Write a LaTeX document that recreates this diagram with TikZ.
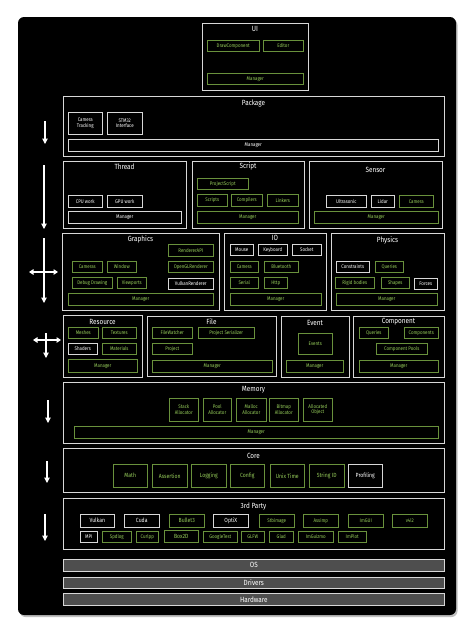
\documentclass[tikz,border=0pt]{standalone}
\usepackage{fontspec}
\setmainfont{Fira Sans}[FakeStretch=0.85]
\usetikzlibrary{arrows.meta}
\definecolor{wline}{RGB}{215,215,215}
\definecolor{gline}{RGB}{105,145,60}
\definecolor{gtext}{RGB}{150,205,90}
\definecolor{barfill}{RGB}{78,78,78}
\definecolor{panel}{RGB}{0,0,0}
\newcommand\bx[7]{\node[#6, anchor=north west, minimum width={(#4-#2)*1pt}, minimum height={(#5-#3)*1pt}] (#1) at (#2,#3) {#7};}
\newcommand\cont[7]{\node[contbox, anchor=north west, minimum width={(#4-#2)*1pt}, minimum height={(#5-#3)*1pt}] (#1) at (#2,#3) {};
\node[titletext] (#1t) at ({(#2+#4)/2},#6) {#7};}
\tikzset{
  base/.style={inner sep=0.3pt, align=center, line width=0.55pt, font=\fontsize{5.2}{5.6}\selectfont},
  wb/.style={base, draw=wline, text=white},
  gb/.style={base, draw=gline, text=gtext},
  gbl/.style={gb, font=\fontsize{6}{6.6}\selectfont},
  wbl/.style={wb, font=\fontsize{6}{6.6}\selectfont},
  contbox/.style={draw=wline, line width=0.65pt, inner sep=0pt},
  titletext/.style={text=white, inner sep=0pt, font=\fontsize{7.5}{8}\selectfont},
  barbox/.style={fill=barfill, draw=wline, line width=0.6pt, text=white, inner sep=0pt, font=\fontsize{7.5}{8}\selectfont},
  flow/.style={draw=white, line width=1.1pt, -{Triangle[width=5.5pt,length=5.5pt]}},
  flow2/.style={draw=white, line width=1.1pt, {Triangle[width=5.5pt,length=4.5pt]}-{Triangle[width=5.5pt,length=4.5pt]}}
}
\begin{document}
\begin{tikzpicture}[x=1pt,y=-1pt]
\useasboundingbox (0,0) rectangle (474,632);
\fill[white] (0,0) rectangle (474,632);
\fill[black!25, rounded corners=6pt] (19.5,19) rectangle (457.5,617);
\fill[panel, rounded corners=6pt] (18,17) rectangle (456,615);
% UI
\cont{ui}{202}{23}{308}{90}{29}{UI}
\bx{ui1}{207}{40}{259}{51}{gb}{DrawComponent}
\bx{ui2}{263}{40}{303}{51}{gb}{Editor}
\bx{uim}{207}{73}{303}{84}{gb}{Manager}
% Package
\cont{pk}{63}{96}{444}{156}{103}{Package}
\bx{pk1}{68}{112}{102}{134}{wb}{Camera\\Tracking}
\bx{pk2}{107}{112}{142}{134}{wb}{STM32\\Interface}
\bx{pkm}{68}{139}{438}{151}{wb}{Manager}
% Thread
\cont{th}{63}{161}{186}{228}{167}{Thread}
\bx{th1}{68}{195}{102}{207}{wb}{CPU work}
\bx{th2}{107}{195}{142}{207}{wb}{GPU work}
\bx{thm}{68}{211}{181}{223}{wb}{Manager}
% Script
\cont{sc}{192}{161}{304}{228}{166}{Script}
\bx{sc1}{197}{178}{248}{189}{gb}{ProjectScript}
\bx{sc2}{197}{194}{227}{206}{gb}{Scripts}
\bx{sc3}{231}{194}{262}{206}{gb}{Compilers}
\bx{sc4}{267}{194}{298}{206}{gb}{Linkers}
\bx{scm}{197}{211}{298}{223}{gb}{Manager}
% Sensor
\cont{se}{309}{161}{442}{228}{170}{Sensor}
\bx{se1}{326}{195}{366}{207}{wb}{Ultrasonic}
\bx{se2}{371}{195}{394}{207}{wb}{Lidar}
\bx{se3}{399}{195}{433}{207}{gb}{Camera}
\bx{sem}{314}{211}{438}{223}{gb}{Manager}
% Graphics
\cont{gr}{62}{233}{219}{310}{239}{Graphics}
\bx{gr1}{168}{244}{213}{256}{gb}{RendererAPI}
\bx{gr2}{168}{261}{213}{272}{gb}{OpenGLRenderer}
\bx{gr3}{168}{278}{213}{289}{wb}{VulkanRenderer}
\bx{gr4}{72}{261}{102}{272}{gb}{Cameras}
\bx{gr5}{107}{261}{136}{272}{gb}{Window}
\bx{gr6}{72}{277}{112}{288}{gb}{Debug Drawing}
\bx{gr7}{117}{277}{146}{288}{gb}{Viewports}
\bx{grm}{68}{293}{213}{305}{gb}{Manager}
% IO
\cont{io}{224}{233}{326}{310}{238}{IO}
\bx{io1}{230}{244}{253}{255}{wb}{Mouse}
\bx{io2}{258}{244}{287}{255}{wb}{Keyboard}
\bx{io3}{292}{244}{321}{255}{wb}{Socket}
\bx{io4}{230}{261}{258}{272}{gb}{Camera}
\bx{io5}{264}{261}{298}{272}{gb}{Bluetooth}
\bx{io6}{230}{277}{258}{288}{gb}{Serial}
\bx{io7}{264}{277}{287}{288}{gb}{Http}
\bx{iom}{230}{293}{321}{305}{gb}{Manager}
% Physics
\cont{ph}{331}{233}{444}{310}{240}{Physics}
\bx{ph1}{336}{261}{369}{272}{wb}{Constraints}
\bx{ph2}{375}{261}{403}{272}{gb}{Queries}
\bx{ph3}{335}{277}{374}{288}{gb}{Rigid bodies}
\bx{ph4}{381}{277}{409}{288}{gb}{Shapes}
\bx{ph5}{414}{278}{437}{289}{wb}{Forces}
\bx{phm}{336}{293}{437}{305}{gb}{Manager}
% Resource
\cont{rs}{63}{315}{142}{377}{322}{Resource}
\bx{rs1}{68}{327}{98}{338}{gb}{Meshes}
\bx{rs2}{102}{327}{136}{338}{gb}{Textures}
\bx{rs3}{68}{343}{97}{354}{wb}{Shaders}
\bx{rs4}{102}{343}{136}{354}{gb}{Materials}
\bx{rsm}{68}{359}{137}{372}{gb}{Manager}
% File
\cont{fi}{147}{316}{276}{376}{322}{File}
\bx{fi1}{152}{327}{192}{338}{gb}{FileWatcher}
\bx{fi2}{198}{327}{254}{338}{gb}{Project Serializer}
\bx{fi3}{152}{343}{192}{354}{gb}{Project}
\bx{fim}{152}{360}{272}{372}{gb}{Manager}
% Event
\cont{ev}{281}{316}{349}{377}{323}{Event}
\bx{ev1}{298}{333}{332}{354}{gb}{Events}
\bx{evm}{286}{360}{343}{372}{gb}{Manager}
% Component
\cont{co}{353}{316}{444}{377}{322}{Component}
\bx{co1}{359}{327}{388}{338}{gb}{Queries}
\bx{co2}{404}{327}{438}{338}{gb}{Components}
\bx{co3}{376}{343}{427}{354}{gb}{Component Pools}
\bx{com}{359}{360}{438}{372}{gb}{Manager}
% Memory
\cont{me}{63}{382}{444}{443}{390}{Memory}
\bx{me1}{169}{398}{198}{421}{gb}{Stack\\Allocator}
\bx{me2}{203}{398}{231}{421}{gb}{Pool\\Allocator}
\bx{me3}{236}{398}{266}{421}{gb}{Malloc\\Allocator}
\bx{me4}{269}{398}{298}{421}{gb}{Bitmap\\Allocator}
\bx{me5}{303}{398}{332}{421}{gb}{Allocated\\Object}
\bx{mem}{74}{426}{438}{438}{gb}{Manager}
% Core
\cont{cr}{63}{448}{444}{492}{456}{Core}
\bx{cr1}{113}{464}{147}{487}{gbl}{Math}
\bx{cr2}{152}{464}{187}{487}{gbl}{Assertion}
\bx{cr3}{191}{464}{226}{487}{gbl}{Logging}
\bx{cr4}{230}{464}{264}{487}{gbl}{Config}
\bx{cr5}{270}{464}{304}{487}{gbl}{Unix Time}
\bx{cr6}{309}{464}{344}{487}{gbl}{String ID}
\bx{cr7}{348}{464}{382}{487}{wbl}{Profiling}
% 3rd Party
\cont{tp}{63}{498}{444}{549}{506}{3rd Party}
\bx{tp1}{80}{514}{114}{527}{wbl}{Vulkan}
\bx{tp2}{124}{514}{159}{527}{wbl}{Cuda}
\bx{tp3}{169}{514}{204}{527}{gbl}{Bullet3}
\bx{tp4}{213}{514}{248}{527}{wbl}{OptiX}
\bx{tp5}{259}{514}{294}{527}{gb}{Stbimage}
\bx{tp6}{303}{514}{338}{527}{gb}{Assimp}
\bx{tp7}{348}{514}{383}{527}{gb}{ImGUI}
\bx{tp8}{392}{514}{427}{527}{gb}{v4l2}
\bx{tq1}{80}{531}{97}{542}{wb}{MPI}
\bx{tq2}{102}{531}{131}{542}{gb}{Spdlog}
\bx{tq3}{136}{531}{158}{542}{gb}{Curlpp}
\bx{tq4}{164}{530}{198}{542}{gbl}{Box2D}
\bx{tq5}{203}{531}{237}{542}{gb}{GoogleTest}
\bx{tq6}{241}{531}{264}{542}{gb}{GLFW}
\bx{tq7}{269}{531}{293}{542}{gb}{Glad}
\bx{tq8}{298}{531}{333}{542}{gb}{ImGuizmo}
\bx{tq9}{338}{531}{366}{542}{gb}{ImPlot}
% bars
\bx{os}{63}{559}{444}{571}{barbox}{OS}
\bx{dr}{63}{577}{444}{588}{barbox}{Drivers}
\bx{hw}{63}{593}{444}{605}{barbox}{Hardware}
% arrows
\coordinate (a1s) at (45,121); \coordinate (a1e) at (45,144);
\coordinate (a2s) at (44,165); \coordinate (a2e) at (44,229);
\coordinate (a3s) at (44,238); \coordinate (a3e) at (44,303);
\coordinate (a3l) at (29,272); \coordinate (a3r) at (58,272);
\coordinate (a4s) at (46,333); \coordinate (a4e) at (46,358);
\coordinate (a4l) at (33,340); \coordinate (a4r) at (61,340);
\coordinate (a5s) at (48,400); \coordinate (a5e) at (48,423);
\coordinate (a6s) at (47,461); \coordinate (a6e) at (47,483);
\coordinate (a7s) at (45,514); \coordinate (a7e) at (45,541);
\draw[flow] (a1s) -- (a1e);
\draw[flow] (a2s) -- (a2e);
\draw[flow] (a3s) -- (a3e);
\draw[flow2] (a3l) -- (a3r);
\draw[flow] (a4s) -- (a4e);
\draw[flow2] (a4l) -- (a4r);
\draw[flow] (a5s) -- (a5e);
\draw[flow] (a6s) -- (a6e);
\draw[flow] (a7s) -- (a7e);
\end{tikzpicture}
\end{document}
